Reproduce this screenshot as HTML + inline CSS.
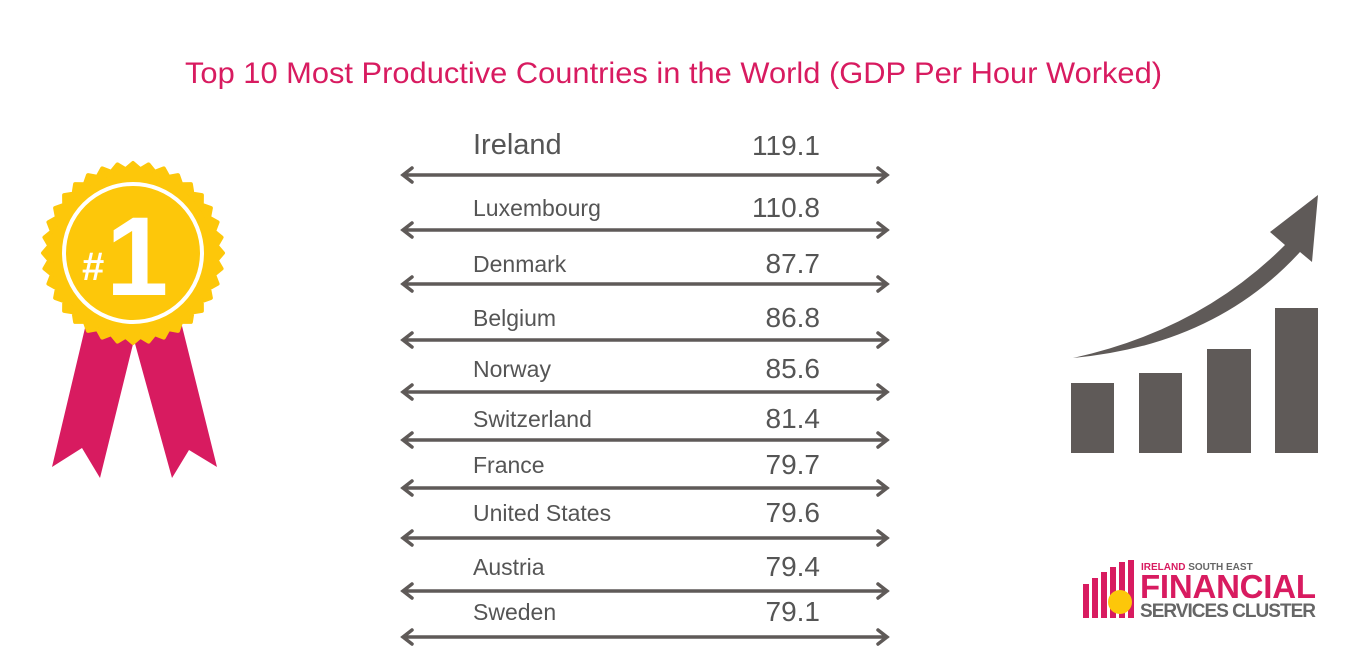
<!DOCTYPE html>
<html><head><meta charset="utf-8"><style>
body{margin:0;width:1348px;height:649px;background:#fff;overflow:hidden;font-family:"Liberation Sans",sans-serif;position:relative}
</style></head><body>
<svg width="1348" height="649" style="position:absolute;left:0;top:0" id="svg">
<text x="185" y="83" font-size="30" fill="#d81b60" textLength="977" lengthAdjust="spacingAndGlyphs">Top 10 Most Productive Countries in the World (GDP Per Hour Worked)</text>
<g>
<polygon points="85,328 134,340 100,478 82,448 52,467" fill="#d81b60"/>
<polygon points="134,340 182,326 217,467 189,450 172,478" fill="#d81b60"/>
<g id="scallop"></g>
<circle cx="133" cy="253" r="80" fill="#fdc70a"/>
<circle cx="133" cy="253" r="69" fill="none" stroke="#fff" stroke-width="4"/>
<text x="82" y="280" fill="#fff" font-size="40" font-weight="bold" font-family="Liberation Sans">#</text>
<text x="106" y="295" fill="#fff" font-size="112" font-weight="bold" font-family="Liberation Sans">1</text>
</g>
<g fill="#5f5a58">
<rect x="1071" y="383" width="43" height="70"/>
<rect x="1139" y="373" width="43" height="80"/>
<rect x="1207" y="349" width="44" height="104"/>
<rect x="1275" y="308" width="43" height="145"/>
<path d="M1073,358 Q1200,330 1285,245 L1270,232 L1318,195 L1312,262 L1300,252 Q1215,345 1073,358 Z"/>
</g>
<g id="rows"></g>
<g>
<rect x="1083" y="584" width="6" height="34" fill="#d81b60"/>
<rect x="1092" y="578" width="6" height="40" fill="#d81b60"/>
<rect x="1101" y="572" width="6" height="46" fill="#d81b60"/>
<rect x="1110" y="567" width="6" height="51" fill="#d81b60"/>
<rect x="1119" y="562" width="6" height="56" fill="#d81b60"/>
<rect x="1128" y="560" width="6" height="58" fill="#d81b60"/>
<circle cx="1120" cy="602" r="12" fill="#fdc70a"/>
<text x="1141" y="570" font-size="10" font-weight="bold" fill="#d81b60">IRELAND <tspan fill="#666">SOUTH EAST</tspan></text>
<text x="1140" y="598" font-size="33" font-weight="bold" fill="#d81b60" textLength="176">FINANCIAL</text>
<text x="1140" y="617" font-size="19" font-weight="bold" fill="#666" textLength="176">SERVICES CLUSTER</text>
</g>
</svg>
<script>
const countries=["Ireland","Luxembourg","Denmark","Belgium","Norway","Switzerland","France","United States","Austria","Sweden"];
const values=[119.1,110.8,87.7,86.8,85.6,81.4,79.7,79.6,79.4,79.1];
const textY=[146,208,264,318,369,419,465,513,567,612];
const arrowY=[175,230,284,340,392,440,488,538,591,637];
const NS="http://www.w3.org/2000/svg";
const sc=document.getElementById('scallop');
let pts=[];
for(let i=0;i<72;i++){const a=i/72*2*Math.PI;const r=i%2?84:90;pts.push((133+r*Math.cos(a)).toFixed(1)+","+(253+r*Math.sin(a)).toFixed(1));}
const pg=document.createElementNS(NS,'polygon');pg.setAttribute('points',pts.join(' '));pg.setAttribute('fill','#fdc70a');pg.setAttribute('stroke','#fdc70a');pg.setAttribute('stroke-width','4');pg.setAttribute('stroke-linejoin','round');sc.appendChild(pg);
const g=document.getElementById('rows');
countries.forEach((c,i)=>{
 const t=document.createElementNS(NS,'text');
 
 
 t.setAttribute('x',473);t.setAttribute('y',textY[i]+8);t.setAttribute('font-size',i==0?29:23);t.setAttribute('fill','#555');t.textContent=c;g.appendChild(t);
 const v=document.createElementNS(NS,'text');
 
 
 v.setAttribute('x',820);v.setAttribute('y',textY[i]+9);v.setAttribute('text-anchor','end');v.setAttribute('font-size',28);v.setAttribute('fill','#555');v.textContent=values[i].toFixed(1);g.appendChild(v);
 const y=arrowY[i];
 const a=document.createElementNS(NS,'path');
 
 
 a.setAttribute('d',`M403,${y} L887,${y} M412,${y-7} L403,${y} L412,${y+7} M878,${y-7} L887,${y} L878,${y+7}`);
 a.setAttribute('stroke','#5f5a58');a.setAttribute('stroke-width',3.5);a.setAttribute('fill','none');a.setAttribute('stroke-linecap','round');g.appendChild(a);
});
</script>
</body></html>
